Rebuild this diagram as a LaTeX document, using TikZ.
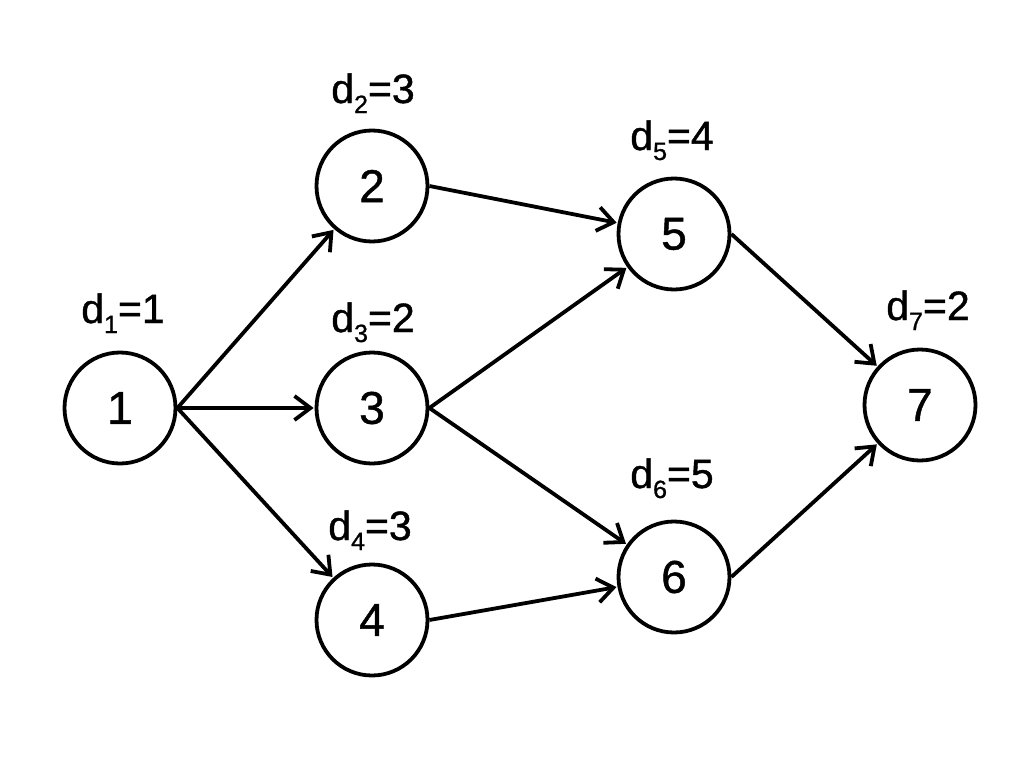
\documentclass[tikz,border=0pt]{standalone}
\usepackage{fontspec}
\setmainfont[FakeBold=1]{Liberation Sans}
\usetikzlibrary{arrows.meta}
\newcommand\lowsub[1]{\raisebox{-10pt}{\fontsize{25}{25}\selectfont #1}}
\begin{document}
\begin{tikzpicture}[x=1pt,y=-1pt,
  vtx/.style={circle,draw,line width=3.8pt,minimum size=111pt,inner sep=0pt,font=\fontsize{46}{46}\selectfont},
  dur/.style={anchor=base,inner sep=0pt,font=\fontsize{41}{41}\selectfont},
  edge/.style={line width=3.8pt,-{Straight Barb[length=16pt,width=24pt,line width=3.8pt]},shorten >=1pt}]
\useasboundingbox (0,0) rectangle (1024,765);
\node[vtx] (n1) at (120,408) {1};
\node[vtx] (n2) at (372,186) {2};
\node[vtx] (n3) at (372,408) {3};
\node[vtx] (n4) at (372,620) {4};
\node[vtx] (n5) at (674,234) {5};
\node[vtx] (n6) at (674,577) {6};
\node[vtx] (n7) at (920,405) {7};
\node[dur] (l1) at (123,323) {d\lowsub{1}=1};
\node[dur] (l2) at (373,103) {d\lowsub{2}=3};
\node[dur] (l3) at (373,332) {d\lowsub{3}=2};
\node[dur] (l4) at (370,540) {d\lowsub{4}=3};
\node[dur] (l5) at (672,150) {d\lowsub{5}=4};
\node[dur] (l6) at (672,488) {d\lowsub{6}=5};
\node[dur] (l7) at (928,320) {d\lowsub{7}=2};
\draw[edge] (n1.east) -- (n2);
\draw[edge] (n1.east) -- (n3);
\draw[edge] (n1.east) -- (n4);
\draw[edge] (n2.east) -- (n5);
\draw[edge] (n3.east) -- (n5);
\draw[edge] (n3.east) -- (n6);
\draw[edge] (n4.east) -- (n6);
\draw[edge] (n5.east) -- (n7);
\draw[edge] (n6.east) -- (n7);
\end{tikzpicture}
\end{document}
